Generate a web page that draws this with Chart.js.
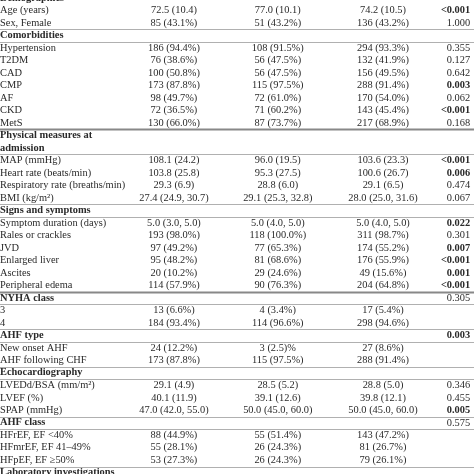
<!DOCTYPE html>
<html><head><meta charset="utf-8">
<script src="https://cdn.jsdelivr.net/npm/chart.js@4"></script>
<style>html,body{margin:0;padding:0;background:#fff}#w{width:474px;height:474px}</style>
</head><body><div id="w"><canvas id="c"></canvas></div>
<script>
const rowLabels = ["Demographics","Age (years)","Sex, Female","Comorbidities","Hypertension","T2DM","CAD","CMP","AF","CKD","MetS","Physical measures at","admission","MAP (mmHg)","Heart rate (beats/min)","Respiratory rate (breaths/min)","BMI (kg/m²)","Signs and symptoms","Symptom duration (days)","Rales or crackles","JVD","Enlarged liver","Ascites","Peripheral edema","NYHA class","3","4","AHF type","New onset AHF","AHF following CHF","Echocardiography","LVEDd/BSA (mm/m²)","LVEF (%)","SPAP (mmHg)","AHF class","HFrEF, EF <40%","HFmrEF, EF 41–49%","HFpEF, EF ≥50%","Laboratory investigations"];
const sectionRows = [0,3,11,12,17,24,27,30,34,38];
const group1 = ["","72.5 (10.4)","85 (43.1%)","","186 (94.4%)","76 (38.6%)","100 (50.8%)","173 (87.8%)","98 (49.7%)","72 (36.5%)","130 (66.0%)","","","108.1 (24.2)","103.8 (25.8)","29.3 (6.9)","27.4 (24.9, 30.7)","","5.0 (3.0, 5.0)","193 (98.0%)","97 (49.2%)","95 (48.2%)","20 (10.2%)","114 (57.9%)","","13 (6.6%)","184 (93.4%)","","24 (12.2%)","173 (87.8%)","","29.1 (4.9)","40.1 (11.9)","47.0 (42.0, 55.0)","","88 (44.9%)","55 (28.1%)","53 (27.3%)",""];
const group2 = ["","77.0 (10.1)","51 (43.2%)","","108 (91.5%)","56 (47.5%)","56 (47.5%)","115 (97.5%)","72 (61.0%)","71 (60.2%)","87 (73.7%)","","","96.0 (19.5)","95.3 (27.5)","28.8 (6.0)","29.1 (25.3, 32.8)","","5.0 (4.0, 5.0)","118 (100.0%)","77 (65.3%)","81 (68.6%)","29 (24.6%)","90 (76.3%)","","4 (3.4%)","114 (96.6%)","","3 (2.5)%","115 (97.5%)","","28.5 (5.2)","39.1 (12.6)","50.0 (45.0, 60.0)","","55 (51.4%)","26 (24.3%)","26 (24.3%)",""];
const total = ["","74.2 (10.5)","136 (43.2%)","","294 (93.3%)","132 (41.9%)","156 (49.5%)","288 (91.4%)","170 (54.0%)","143 (45.4%)","217 (68.9%)","","","103.6 (23.3)","100.6 (26.7)","29.1 (6.5)","28.0 (25.0, 31.6)","","5.0 (4.0, 5.0)","311 (98.7%)","174 (55.2%)","176 (55.9%)","49 (15.6%)","204 (64.8%)","","17 (5.4%)","298 (94.6%)","","27 (8.6%)","288 (91.4%)","","28.8 (5.0)","39.8 (12.1)","50.0 (45.0, 60.0)","","143 (47.2%)","81 (26.7%)","79 (26.1%)",""];
const pValues = ["","<0.001","1.000","","0.355","0.127","0.642","0.003","0.062","<0.001","0.168","","","<0.001","0.006","0.474","0.067","","0.022","0.301","0.007","<0.001","0.001","<0.001","0.305","","","0.003","","","","0.346","0.455","0.005","0.575","","","",""];
const ruleAfter = [2,3,10,12,16,17,23,24,26,27,29,30,33,34,37];
const heavyRules = [10,23];

const FONT = '"Liberation Serif","DejaVu Serif",serif';
const SIZE = '10.4px ';
const tablePlugin = {
  id:'table',
  afterDraw(chart){
    const {ctx, scales:{x,y}} = chart;
    ctx.save();
    ruleAfter.forEach(r=>{
      const py = Math.round(y.getPixelForValue(r+0.5))+0.5;
      ctx.strokeStyle = heavyRules.includes(r) ? '#888' : '#b0b0b0';
      ctx.lineWidth = heavyRules.includes(r) ? 2 : 1;
      ctx.beginPath(); ctx.moveTo(x.getPixelForValue(0),py); ctx.lineTo(x.getPixelForValue(100),py); ctx.stroke();
    });
    ctx.fillStyle = '#2a2a2a';
    ctx.textBaseline = 'middle';
    rowLabels.forEach((lab,i)=>{
      const py = y.getPixelForValue(i);
      const sec = sectionRows.includes(i);
      ctx.font = (sec?'bold ':'')+SIZE+FONT;
      ctx.textAlign='left';
      ctx.fillText(lab, x.getPixelForValue(0), py);
      ctx.font = SIZE+FONT;
      ctx.textAlign='center';
      if(group1[i]) ctx.fillText(group1[i], x.getPixelForValue(36.7), py);
      if(group2[i]) ctx.fillText(group2[i], x.getPixelForValue(58.6), py);
      if(total[i]) ctx.fillText(total[i], x.getPixelForValue(80.8), py);
      if(pValues[i]){
        const pv = pValues[i];
        const sig = pv.startsWith('<') || parseFloat(pv) < 0.05;
        ctx.font = (sig?'bold ':'')+SIZE+FONT;
        ctx.textAlign='right';
        ctx.fillText(pv, x.getPixelForValue(99.2), py);
      }
    });
    ctx.restore();
  }
};
new Chart(document.getElementById('c'),{
  type:'scatter',
  data:{datasets:[{data:[],pointRadius:0}]},
  options:{
    responsive:true, maintainAspectRatio:false, animation:false,
    layout:{padding:0},
    plugins:{legend:{display:false},tooltip:{enabled:false}},
    scales:{
      x:{type:'linear',min:0,max:100,display:false},
      y:{type:'linear',reverse:true,min:0.16,max:38.1,display:false}
    }
  },
  plugins:[tablePlugin]
});
</script></body></html>
